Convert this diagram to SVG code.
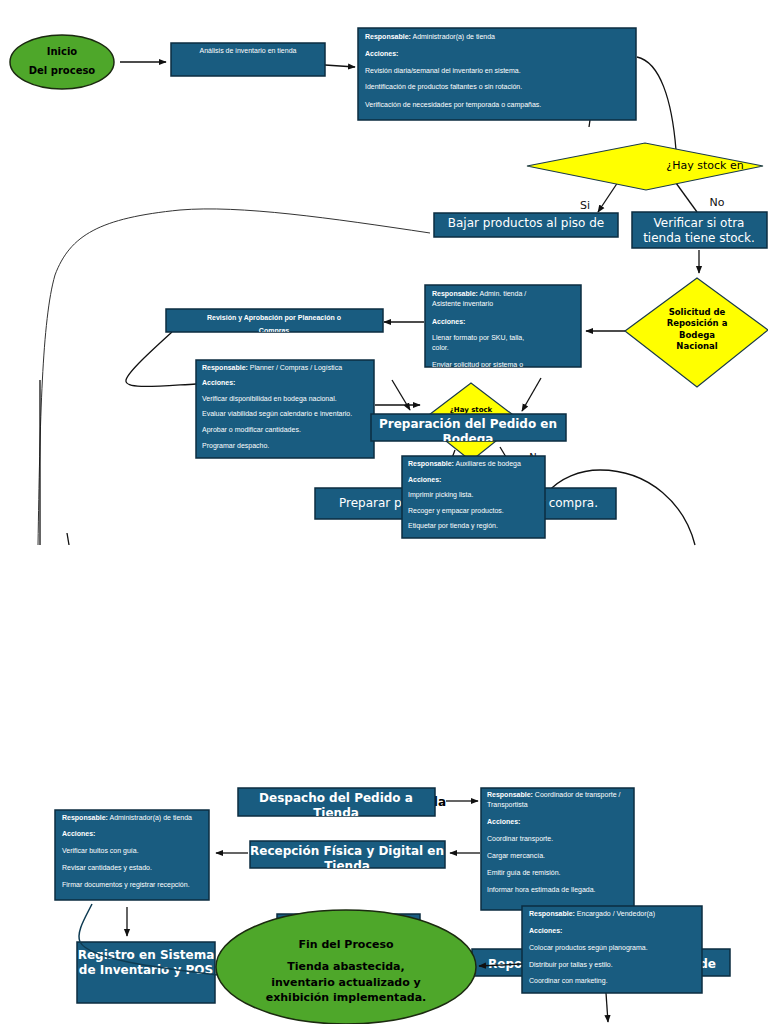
<svg xmlns="http://www.w3.org/2000/svg" width="768" height="1024" viewBox="0 0 768 1024">
<style>
.box{fill:#195c80;stroke:#0b2c40;stroke-width:1.5}
.dia{fill:#ffff00;stroke:#1a3a4a;stroke-width:1.2}
.ell{fill:#4ea72a;stroke:#1b2a10;stroke-width:1.5}
.w{fill:#ffffff;font-family:"Liberation Sans",Arial,sans-serif;font-size:7px}
.wb{font-weight:bold}
.t12{fill:#ffffff;font-family:"DejaVu Sans",sans-serif;font-size:12px}
.b12{fill:#ffffff;font-family:"DejaVu Sans",sans-serif;font-size:12px;font-weight:bold}
.k{fill:#000000;font-family:"DejaVu Sans",sans-serif;font-weight:bold}
.c{stroke:#111;stroke-width:1.3;fill:none}
.thin{stroke:#333;stroke-width:1;fill:none}
</style>
<defs>
<marker id="ah" viewBox="0 0 10 10" refX="9" refY="5" markerWidth="6" markerHeight="6" orient="auto"><path d="M0,1 L10,5 L0,9 z" fill="#111"/></marker>
<clipPath id="cp1"><rect x="434" y="213" width="184" height="24"/></clipPath>
<clipPath id="cp2"><rect x="166" y="309" width="217" height="23"/></clipPath>
<clipPath id="cp3"><rect x="425" y="285" width="156" height="82"/></clipPath>
<clipPath id="cp4"><rect x="371" y="414" width="195" height="27"/></clipPath>
<clipPath id="cp5"><rect x="238" y="788" width="197" height="28"/></clipPath>
<clipPath id="cp6"><rect x="250" y="841" width="195" height="27"/></clipPath>
<clipPath id="cp7"><rect x="527" y="143" width="236" height="47"/></clipPath>
<clipPath id="cp8"><rect x="472" y="949" width="258" height="27"/></clipPath>
</defs>
<rect width="768" height="1024" fill="#ffffff"/>

<g id="connectors">
<line class="c" x1="120" y1="62" x2="166" y2="62" marker-end="url(#ah)"/>
<line class="c" x1="325" y1="65" x2="355" y2="67" marker-end="url(#ah)"/>
<path class="c" d="M637,57 C660,62 672,100 676,150"/>
<line class="c" x1="590" y1="120" x2="589" y2="127"/>
<line class="c" x1="618" y1="182" x2="598" y2="212" marker-end="url(#ah)"/>
<line class="c" x1="676" y1="183" x2="697" y2="212"/>
<line class="c" x1="699" y1="250" x2="699" y2="273" marker-end="url(#ah)"/>
<line class="c" x1="625" y1="331" x2="586" y2="331" marker-end="url(#ah)"/>
<line class="c" x1="424" y1="322" x2="384" y2="322" marker-end="url(#ah)"/>
<path class="thin" d="M430,233 C330,218 240,205 180,210 C100,218 70,235 55,275 C42,320 40,420 38,545"/>
<path class="c" d="M40,380 L40,545"/>
<path class="c" d="M67,533 L69,545"/>
<path class="c" d="M172,332 C150,352 128,372 126,380 C124,390 160,386 196,384"/>
<line class="c" x1="375" y1="405" x2="420" y2="405" marker-end="url(#ah)"/>
<line class="c" x1="392" y1="380" x2="410" y2="410" marker-end="url(#ah)"/>
<line class="c" x1="541" y1="378" x2="522" y2="411" marker-end="url(#ah)"/>
<line class="c" x1="455" y1="450" x2="452" y2="458"/>
<line class="c" x1="500" y1="447" x2="506" y2="457"/>
<path class="c" d="M547,493 C560,478 580,470 600,470 C650,470 685,505 695,545"/>
<line class="c" x1="446" y1="801" x2="478" y2="801" marker-end="url(#ah)"/>
<line class="c" x1="480" y1="853" x2="450" y2="853" marker-end="url(#ah)"/>
<line class="c" x1="248" y1="853" x2="216" y2="853" marker-end="url(#ah)"/>
<line class="c" x1="127" y1="907" x2="127" y2="936" marker-end="url(#ah)"/>
<line class="c" x1="606" y1="993" x2="608" y2="1022" marker-end="url(#ah)"/>
</g>

<g id="inicio">
<ellipse class="ell" cx="62" cy="62" rx="52" ry="27"/>
<text class="k" x="62" y="55" font-size="10" text-anchor="middle">Inicio</text>
<text class="k" x="62" y="74" font-size="10" text-anchor="middle">Del proceso</text>
</g>

<g id="analisis">
<rect class="box" x="171" y="43" width="154" height="33"/>
<text class="w" x="248" y="53" font-size="8" text-anchor="middle">Análisis de inventario en tienda</text>
</g>

<g id="resp1">
<rect class="box" x="358" y="28" width="278" height="92"/>
<text class="w" x="365" y="39" font-size="8"><tspan class="wb">Responsable:</tspan> Administrador(a) de tienda</text>
<text class="w wb" x="365" y="56" font-size="8">Acciones:</text>
<text class="w" x="365" y="73">Revisión diaria/semanal del inventario en sistema.</text>
<text class="w" x="365" y="89">Identificación de productos faltantes o sin rotación.</text>
<text class="w" x="365" y="107">Verificación de necesidades por temporada o campañas.</text>
</g>

<g id="decision1">
<polygon class="dia" points="527,166 645,143 763,166 646,190"/>
<g clip-path="url(#cp7)">
<text x="705" y="169" font-family="DejaVu Sans,sans-serif" font-size="11" fill="#000" text-anchor="middle">¿Hay stock en</text>
</g>
<text x="585" y="209" font-family="DejaVu Sans,sans-serif" font-size="11" fill="#111" text-anchor="middle">Si</text>
<text x="717" y="206" font-family="DejaVu Sans,sans-serif" font-size="11" fill="#111" text-anchor="middle">No</text>
</g>

<g id="bajar">
<rect class="box" x="434" y="213" width="184" height="24"/>
<g clip-path="url(#cp1)"><text class="t12" x="526" y="227" text-anchor="middle">Bajar productos al piso de</text></g>
</g>

<g id="verificar">
<rect class="box" x="632" y="212" width="135" height="36"/>
<text class="t12" x="699" y="227" text-anchor="middle">Verificar si otra</text>
<text class="t12" x="699" y="242" text-anchor="middle">tienda tiene stock.</text>
</g>

<g id="solicitud">
<polygon class="dia" points="625,331 697,278 768,330 697,387"/>
<text class="k" x="697" y="315" font-size="8.5" text-anchor="middle">Solicitud de</text>
<text class="k" x="697" y="326" font-size="8.5" text-anchor="middle">Reposición a</text>
<text class="k" x="697" y="338" font-size="8.5" text-anchor="middle">Bodega</text>
<text class="k" x="697" y="349" font-size="8.5" text-anchor="middle">Nacional</text>
</g>

<g id="resp2">
<rect class="box" x="425" y="285" width="156" height="82"/>
<g clip-path="url(#cp3)">
<text class="w" x="432" y="296" font-size="8.5"><tspan class="wb">Responsable:</tspan> Admin. tienda /</text>
<text class="w" x="432" y="306" font-size="8.5">Asistente inventario</text>
<text class="w wb" x="432" y="324" font-size="8.5">Acciones:</text>
<text class="w" x="432" y="340" font-size="8.5">Llenar formato por SKU, talla,</text>
<text class="w" x="432" y="350" font-size="8.5">color.</text>
<text class="w" x="432" y="367" font-size="8.5">Enviar solicitud por sistema o</text>
</g>
</g>

<g id="revision">
<rect class="box" x="166" y="309" width="217" height="23"/>
<g clip-path="url(#cp2)">
<text class="w wb" x="274" y="320" font-size="8.5" text-anchor="middle">Revisión y Aprobación por Planeación o</text>
<text class="w wb" x="274" y="333" font-size="8.5" text-anchor="middle">Compras</text>
</g>
</g>

<g id="resp3">
<rect class="box" x="196" y="360" width="178" height="98"/>
<text class="w" x="202" y="370"><tspan class="wb">Responsable:</tspan> Planner / Compras / Logística</text>
<text class="w wb" x="202" y="385">Acciones:</text>
<text class="w" x="202" y="401">Verificar disponibilidad en bodega nacional.</text>
<text class="w" x="202" y="416">Evaluar viabilidad según calendario e inventario.</text>
<text class="w" x="202" y="432">Aprobar o modificar cantidades.</text>
<text class="w" x="202" y="448">Programar despacho.</text>
</g>

<g id="decision2">
<polygon class="dia" points="421,421 471,383 521,421 471,461"/>
<text class="k" x="471" y="412" font-size="7" text-anchor="middle">¿Hay stock</text>
<text x="533" y="461" font-family="DejaVu Sans,sans-serif" font-size="10" fill="#111" text-anchor="middle">N</text>
</g>

<g id="preparacion">
<rect class="box" x="371" y="414" width="195" height="27"/>
<g clip-path="url(#cp4)">
<text class="b12" x="468" y="428" text-anchor="middle">Preparación del Pedido en</text>
<text class="b12" x="468" y="443" text-anchor="middle">Bodega</text>
</g>
</g>

<g id="preparar">
<rect class="box" x="315" y="488" width="301" height="31"/>
<text class="t12" x="339" y="507">Preparar pe</text>
<text class="t12" x="598" y="507" text-anchor="end">r compra.</text>
</g>

<g id="resp4">
<rect class="box" x="402" y="456" width="143" height="82"/>
<text class="w" x="408" y="466"><tspan class="wb">Responsable:</tspan> Auxiliares de bodega</text>
<text class="w wb" x="408" y="482">Acciones:</text>
<text class="w" x="408" y="497">Imprimir picking lista.</text>
<text class="w" x="408" y="513">Recoger y empacar productos.</text>
<text class="w" x="408" y="528">Etiquetar por tienda y región.</text>
</g>

<g id="despacho">
<text class="k" x="446" y="806" font-size="12" text-anchor="end">da</text>
<rect class="box" x="238" y="788" width="197" height="28"/>
<g clip-path="url(#cp5)">
<text class="b12" x="336" y="802" text-anchor="middle">Despacho del Pedido a</text>
<text class="b12" x="336" y="817" text-anchor="middle">Tienda</text>
</g>
</g>

<g id="resp5">
<rect class="box" x="481" y="788" width="153" height="122"/>
<text class="w" x="487" y="797"><tspan class="wb">Responsable:</tspan> Coordinador de transporte /</text>
<text class="w" x="487" y="807">Transportista</text>
<text class="w wb" x="487" y="824">Acciones:</text>
<text class="w" x="487" y="841">Coordinar transporte.</text>
<text class="w" x="487" y="858">Cargar mercancía.</text>
<text class="w" x="487" y="875">Emitir guía de remisión.</text>
<text class="w" x="487" y="892">Informar hora estimada de llegada.</text>
</g>

<g id="recepcion">
<rect class="box" x="250" y="841" width="195" height="27"/>
<g clip-path="url(#cp6)">
<text class="b12" x="347" y="855" text-anchor="middle">Recepción Física y Digital en</text>
<text class="b12" x="347" y="870" text-anchor="middle">Tienda</text>
</g>
</g>

<g id="resp6">
<rect class="box" x="55" y="810" width="154" height="90"/>
<text class="w" x="62" y="820"><tspan class="wb">Responsable:</tspan> Administrador(a) de tienda</text>
<text class="w wb" x="62" y="836">Acciones:</text>
<text class="w" x="62" y="853">Verificar bultos con guía.</text>
<text class="w" x="62" y="870">Revisar cantidades y estado.</text>
<text class="w" x="62" y="887">Firmar documentos y registrar recepción.</text>
</g>

<g id="registro">
<rect class="box" x="77" y="942" width="138" height="61"/>
<text class="b12" x="146" y="959" text-anchor="middle">Registro en Sistema</text>
<text class="b12" x="146" y="974" text-anchor="middle">de Inventario y POS</text>
</g>
<path d="M92,904 C85,918 76,932 80,942 C90,960 160,968 218,975" fill="none" stroke="#0e3b52" stroke-width="1.5"/>

<g id="hidden-box">
<rect class="box" x="277" y="914" width="143" height="30"/>
</g>

<g id="reposicion">
<rect class="box" x="472" y="949" width="258" height="27"/>
<g clip-path="url(#cp8)">
<text class="b12" x="488" y="968">Repos</text>
<text class="b12" x="716" y="968" text-anchor="end">de</text>
</g>
</g>
<line class="c" x1="522" y1="964" x2="479" y2="966" marker-end="url(#ah)"/>

<g id="fin">
<ellipse class="ell" cx="346" cy="967" rx="130" ry="57"/>
<text class="k" x="346" y="948" font-size="11" text-anchor="middle">Fin del Proceso</text>
<text class="k" x="346" y="970" font-size="11" text-anchor="middle">Tienda abastecida,</text>
<text class="k" x="346" y="986" font-size="11" text-anchor="middle">inventario actualizado y</text>
<text class="k" x="346" y="1001" font-size="11" text-anchor="middle">exhibición implementada.</text>
</g>

<g id="resp7">
<rect class="box" x="522" y="906" width="180" height="87"/>
<text class="w" x="529" y="916"><tspan class="wb">Responsable:</tspan> Encargado / Vendedor(a)</text>
<text class="w wb" x="529" y="933">Acciones:</text>
<text class="w" x="529" y="950">Colocar productos según planograma.</text>
<text class="w" x="529" y="967">Distribuir por tallas y estilo.</text>
<text class="w" x="529" y="983">Coordinar con marketing.</text>
</g>
</svg>
